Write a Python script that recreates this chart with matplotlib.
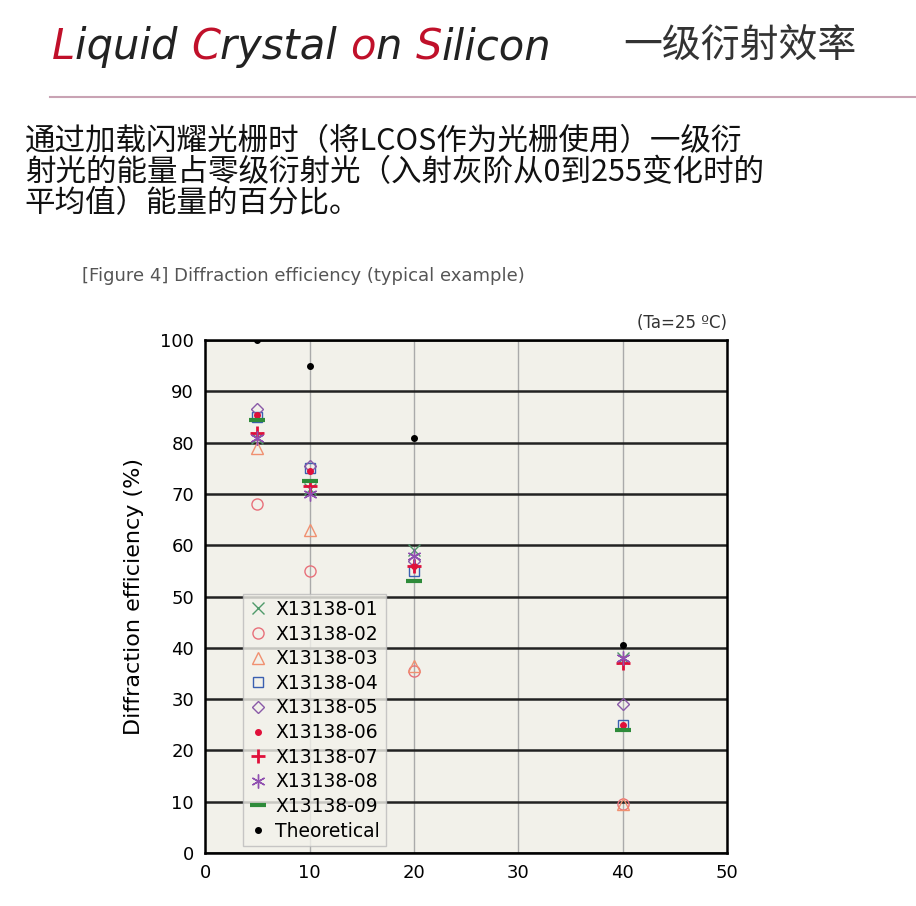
import matplotlib
matplotlib.use("Agg")
import matplotlib.pyplot as plt
from matplotlib.lines import Line2D

plt.rcParams['font.family'] = ['Noto Sans CJK SC', 'DejaVu Sans']

x = [5, 10, 20, 40]
series = {
    'X13138-01': [81, 71, 59, 38],
    'X13138-02': [68, 55, 35.5, 9.5],
    'X13138-03': [79, 63, 36.5, 9.5],
    'X13138-04': [85, 75, 55, 25],
    'X13138-05': [86.5, 75.5, 57, 29],
    'X13138-06': [85.5, 74.5, 56, 25],
    'X13138-07': [82, 71.5, 56, 37],
    'X13138-08': [81, 70, 58, 38],
    'X13138-09': [84.5, 72.5, 53, 24],
    'Theoretical': [100, 95, 81, 40.5],
}
styles = {
    'X13138-01': dict(marker='x', color='#4f9a6a', mfc='none', ms=8),
    'X13138-02': dict(marker='o', color='#e8707a', mfc='none', ms=8),
    'X13138-03': dict(marker='^', color='#f09070', mfc='none', ms=8),
    'X13138-04': dict(marker='s', color='#3a5fb0', mfc='none', ms=7),
    'X13138-05': dict(marker='D', color='#8a5aa8', mfc='none', ms=6),
    'X13138-06': dict(marker='o', color='#e0103a', mfc='#e0103a', ms=4),
    'X13138-07': dict(marker='+', color='#e0103a', mfc='none', ms=10, mew=2),
    'X13138-08': dict(marker=(6, 2, 0), color='#9050b0', mfc='none', ms=10),
    'X13138-09': dict(marker='_', color='#2e8b3a', mfc='none', ms=12, mew=3),
    'Theoretical': dict(marker='o', color='black', mfc='black', ms=4),
}
DV = ['DejaVu Sans']

fig = plt.figure(figsize=(9.16, 9.06), dpi=100)
fig.patch.set_facecolor('white')

parts = [("L", '#c0102a'), ("iquid ", '#222222'), ("C", '#c0102a'), ("rystal ", '#222222'),
         ("o", '#c0102a'), ("n ", '#222222'), ("S", '#c0102a'), ("ilicon", '#222222')]
fig.canvas.draw()
r = fig.canvas.get_renderer()
xpos = 0.057
for s, c in parts:
    t = fig.text(xpos, 0.948, s, fontsize=30, style='italic', color=c, family=DV, va='center')
    bb = t.get_window_extent(renderer=r)
    xpos += bb.width / fig.bbox.width
fig.text(0.68, 0.948, "一级衍射效率", fontsize=28, color='#333333', va='center')
fig.add_artist(Line2D([0.055, 1.0], [0.893, 0.893], color='#c9a3b4', lw=1.5))

fig.text(0.027, 0.81, "通过加载闪耀光栅时（将LCOS作为光栅使用）一级衍\n射光的能量占零级衍射光（入射灰阶从0到255变化时的\n平均值）能量的百分比。",
         fontsize=22, color='#111111', va='center', linespacing=1.0)
fig.text(0.09, 0.69, "[Figure 4] Diffraction efficiency (typical example)", fontsize=13, color='#555555', family=DV)
fig.text(0.794, 0.638, "(Ta=25 ºC)", fontsize=12, color='#333333', ha='right', family=DV)

ax = fig.add_axes([0.224, 0.0585, 0.57, 0.566])
ax.set_facecolor('#f2f1ea')
for name, vals in series.items():
    ax.plot(x, vals, linestyle='none', label=name, **styles[name])
ax.set_xlim(0, 50)
ax.set_ylim(0, 100)
ax.set_xticks([0, 10, 20, 30, 40, 50])
ax.set_yticks(range(0, 101, 10))
ax.xaxis.grid(True, color='#aaaaaa', lw=1)
ax.yaxis.grid(True, color='#222222', lw=1.8)
ax.set_axisbelow(True)
ax.tick_params(labelsize=13, length=0, pad=8)
for lb in ax.get_xticklabels() + ax.get_yticklabels():
    lb.set_family(DV)
for s in ax.spines.values():
    s.set_linewidth(1.8)
ax.set_ylabel("Diffraction efficiency (%)", fontsize=16, labelpad=12, family=DV)
leg = ax.legend(loc='lower left', bbox_to_anchor=(0.055, -0.005), frameon=True,
                prop={'family': DV, 'size': 13.5},
                fancybox=False, edgecolor='#bbbbbb', handlelength=1.0, handletextpad=0.4,
                labelspacing=0.3, borderpad=0.3)
leg.get_frame().set_facecolor('#f2f1ea')
fig.savefig("out.png", dpi=100)
